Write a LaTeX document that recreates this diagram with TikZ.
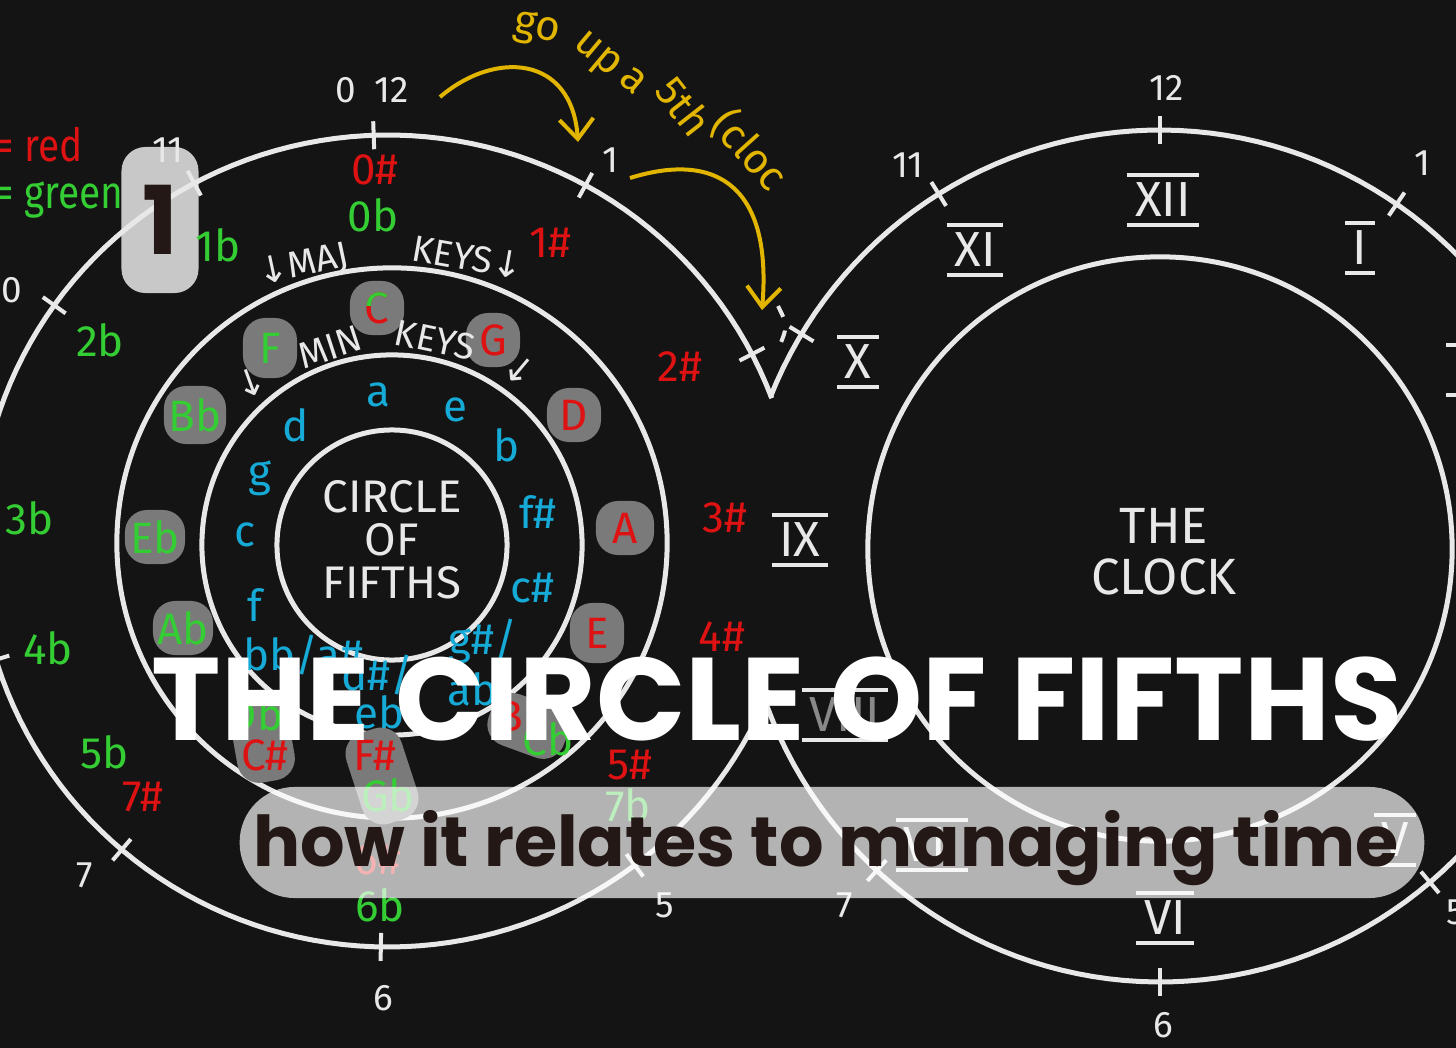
\documentclass[tikz,border=0pt]{standalone}
\usepackage{fontspec}
\setmainfont{Fira Sans}
\newfontfamily\headfont{Poppins}
\newfontfamily\symbfont{DejaVu Sans}
\usepackage{tikz}
\usetikzlibrary{arrows.meta, positioning}
\definecolor{boardbg}{RGB}{20, 20, 20}
\definecolor{chalk}{RGB}{232, 232, 232}
\definecolor{notered}{RGB}{222, 18, 18}
\definecolor{notegreen}{RGB}{52, 205, 52}
\definecolor{noteblue}{RGB}{22, 170, 215}
\definecolor{noteyellow}{RGB}{226, 182, 0}
\definecolor{blobgray}{RGB}{122, 122, 122}
\definecolor{badgegray}{RGB}{200, 200, 200}
\definecolor{inkdark}{RGB}{35, 24, 21}

\begin{document}
\begin{tikzpicture}[x=0.01cm, y=-0.01cm,
    chalkline/.style={draw=chalk, line width=0.5mm},
    tickline/.style={draw=chalk, line width=0.4mm},
    hand/.style={inner sep=0pt, font=\fontsize{12.5}{12.5}\selectfont},
    num/.style={hand, text=chalk, font=\fontsize{10.5}{10.5}\selectfont},
    sharp/.style={hand, text=notered},
    flat/.style={hand, text=notegreen},
    minor/.style={hand, text=noteblue},
    arclabel/.style={hand, text=chalk, font=\fontsize{10.5}{10.5}\selectfont},
    keyblob/.style={hand, fill=blobgray, rounded corners=2.2mm,
                    minimum width=5.4mm, minimum height=5.4mm},
    roman/.style={text=chalk, inner sep=0.7mm, font=\fontsize{14}{14}\selectfont,
                  append after command={
                    (\tikzlastnode.north west) edge[tickline] (\tikzlastnode.north east)
                    (\tikzlastnode.south west) edge[tickline] (\tikzlastnode.south east)}},
    yellownote/.style={hand, text=noteyellow, font=\fontsize{12}{12}\selectfont},
    yellowarrow/.style={draw=noteyellow, line width=0.4mm,
                        -{Straight Barb[length=2mm, width=3.4mm]}}]

    \useasboundingbox (0,0) rectangle (1456,1048);
    \fill[boardbg] (0,0) rectangle (1456,1048);
    \clip (0,0) rectangle (1456,1048);

    % badge sits under the outer circle
    \node[fill=badgegray, rounded corners=2.4mm, minimum width=7.7mm,
          minimum height=14.6mm, inner sep=0pt] (badge) at (160,220) {};

    % the two outer circles, joined at the V
    \draw[chalkline] plot[domain=21.6:339.4, samples=150]
      ({388+410*cos(\x)},{541+406*sin(\x)});
    \draw[chalkline] plot[domain=201.9:521.4, samples=150]
      ({1160+420*cos(\x)},{556+426*sin(\x)});
    \foreach \t in {-92,-61.2,-27.4,-118.2,-144.5,163,130.5,91,53}
      \draw[tickline] ({388+396*cos(\t)},{541+392*sin(\t)})
        -- ({388+424*cos(\t)},{541+420*sin(\t)});
    \foreach \t in {270,238.2,304.3,211.4,450,492.4,410}
      \draw[tickline] ({1160+406*cos(\t)},{556+412*sin(\t)})
        -- ({1160+434*cos(\t)},{556+440*sin(\t)});
    \draw[chalk, line width=0.4mm, dash pattern=on 1.2mm off 1.4mm]
      (778,306) .. controls (788,326) .. (777,352);

    % rings of the circle of fifths and the clock face
    \draw[chalkline] (392,543) circle[radius=27.5mm];
    \draw[chalkline] (392,545) circle[radius=19mm];
    \draw[chalkline] (392,545) circle[radius=11.5mm];
    \draw[chalkline] (1160,549) circle[radius=29.2mm];

    % hour numbers
    \node[num] (h0) at (346,90) {0};
    \node[num] (h12) at (392,90) {12};
    \node[num] (h1) at (610,160) {1};
    \node[num] (h11) at (168,150) {11};
    \node[num] (h10) at (4,290) {10};
    \node[num] (h7) at (85,875) {7};
    \node[num] (h6) at (383,998) {6};
    \node[num] (h5) at (665,905) {5};
    \node[num] (c12) at (1167,88) {12};
    \node[num] (c11) at (908,165) {11};
    \node[num] (c1) at (1422,163) {1};
    \node[num] (c7) at (845,905) {7};
    \node[num] (c6) at (1163,1025) {6};
    \node[num] (c5) at (1456,912) {5};

    % legend
    \node[hand, text=notered, anchor=west, xscale=0.85, font=\fontsize{13}{13}\selectfont]
      (legred) at (-6,145) {= red};
    \node[hand, text=notegreen, anchor=west, xscale=0.85, font=\fontsize{13}{13}\selectfont]
      (leggreen) at (-6,200) {= green};

    % key signatures
    \node[sharp] (s0) at (375,170) {0\#};
    \node[flat] (f0) at (373,215) {0b};
    \node[sharp] (s1) at (550,243) {1\#};
    \node[sharp] (s2) at (680,367) {2\#};
    \node[sharp] (s3) at (725,518) {3\#};
    \node[sharp] (s4) at (722,637) {4\#};
    \node[sharp] (s5) at (630,765) {5\#};
    \node[sharp] (s6) at (378,860) {6\#};
    \node[sharp] (s7) at (143,797) {7\#};
    \node[flat] (f1) at (218,245) {1b};
    \node[flat] (f2) at (100,340) {2b};
    \node[flat] (f3) at (30,518) {3b};
    \node[flat] (f4) at (48,648) {4b};
    \node[flat] (f5) at (105,752) {5b};
    \node[flat] (f6) at (380,905) {6b};
    \node[flat] (f7) at (628,805) {7b};

    % major keys
    \node[keyblob, text=notered] (kC) at (377,308) {C};
    \begin{scope}
      \clip (340,270) rectangle (420,305);
      \node[hand, text=notegreen] (kCtop) at (377,308) {C};
    \end{scope}
    \node[keyblob, text=notered] (kG) at (493,340) {G};
    \node[keyblob, text=notered] (kD) at (574,415) {D};
    \node[keyblob, text=notered, minimum width=5.8mm] (kA) at (625,528) {A};
    \node[keyblob, text=notered, minimum height=6mm] (kE) at (597,633) {E};
    \node[keyblob, minimum width=8mm, rotate=-20] (kB) at (528,726) {};
    \node[sharp] (kBs) at (510,716) {B};
    \node[flat] (kBf) at (548,739) {Cb};
    \node[keyblob, minimum width=5.8mm, minimum height=9.5mm, rotate=18] (kF6) at (382,776) {};
    \node[sharp] (kF6s) at (375,755) {F\#};
    \node[flat] (kF6f) at (388,795) {Gb};
    \node[keyblob, minimum width=5.8mm, minimum height=9mm, rotate=10] (kC7) at (262,737) {};
    \node[flat] (kC7f) at (256,714) {Db};
    \node[sharp] (kC7s) at (265,755) {C\#};
    \node[keyblob, text=notegreen, minimum width=6mm] (kAb) at (183,628) {Ab};
    \node[keyblob, text=notegreen, minimum width=6mm] (kEb) at (155,537) {Eb};
    \node[keyblob, text=notegreen, minimum width=6.2mm, minimum height=5.8mm] (kBb) at (195,415) {Bb};
    \node[keyblob, text=notegreen, minimum height=6mm] (kF) at (270,348) {F};

    % minor keys
    \node[minor] (mA) at (378,395) {a};
    \node[minor] (mE) at (455,410) {e};
    \node[minor] (mB) at (507,445) {b};
    \node[minor] (mFs) at (538,512) {f\#};
    \node[minor] (mCs) at (532,588) {c\#};
    \node[minor] (mGs) at (483,641) {g\#/};
    \node[minor] (mAb) at (473,689) {ab};
    \node[minor] (mDs) at (377,675) {d\#/};
    \node[minor] (mEb) at (380,712) {eb};
    \node[minor] (mBb) at (303,655) {bb/a\#};
    \node[minor] (mF) at (255,605) {f};
    \node[minor] (mC) at (245,535) {c};
    \node[minor] (mG) at (260,478) {g};
    \node[minor] (mD) at (296,425) {d};

    % ring captions
    \node[arclabel, rotate=12] (majL) at (303,265) {{\symbfont ↓}MAJ};
    \node[arclabel, rotate=-10] (majR) at (468,257) {KEYS{\symbfont ↓}};
    \node[arclabel, rotate=18] (minL) at (330,347) {MIN};
    \node[arclabel, rotate=-12] (minR) at (435,340) {KEYS};
    \node[arclabel, rotate=20] (arrL) at (250,383) {\symbfont ↓};
    \node[arclabel, rotate=-40] (arrR) at (520,370) {\symbfont ↓};
    \node[hand, text=chalk, align=center, font=\fontsize{13}{12.2}\selectfont]
      (cof) at (392,540) {CIRCLE\\OF\\FIFTHS};
    \node[hand, text=chalk, align=center, font=\fontsize{14.5}{14.5}\selectfont]
      (clock) at (1164,552) {THE\\CLOCK};

    % roman numerals
    \node[roman] (rXII) at (1163,200) {XII};
    \node[roman] (rXI) at (975,250) {XI};
    \node[roman] (rI) at (1360,248) {I};
    \node[roman] (rII) at (1468,370) {II};
    \node[roman] (rX) at (858,362) {X};
    \node[roman] (rIX) at (800,540) {IX};
    \node[roman, text=chalk!55!boardbg] (rVIII) at (845,715) {VIII};
    \node[roman] (rVII) at (932,845) {VII};
    \node[roman] (rVI) at (1165,918) {VI};
    \node[roman] (rV) at (1395,840) {V};

    % go up a fifth
    \coordinate (y1a) at (440,97);
    \coordinate (y1b) at (578,142);
    \coordinate (y2a) at (630,178);
    \coordinate (y2b) at (762,310);
    \draw[yellowarrow] (y1a) .. controls (495,50) and (572,55) .. (y1b);
    \draw[yellowarrow] (y2a) .. controls (720,150) and (772,190) .. (y2b);
    \node[yellownote, rotate=-12] (wgo) at (537,30) {go};
    \node[yellownote, rotate=-40] (wup) at (596,56) {up};
    \node[yellownote, rotate=-40] (wa) at (633,80) {a};
    \node[yellownote, rotate=-52] (w5th) at (684,106) {5th};
    \node[yellownote, rotate=-48] (wcl) at (750,150) {(cloc};

    \node[font=\headfont\bfseries\fontsize{27}{27}\selectfont, text=inkdark,
          inner sep=0pt] (one) at (badge.center) {1};

    % title and subtitle
    \node[fill=white, fill opacity=0.68, rounded corners=5.5mm, inner sep=0pt,
          minimum width=118.4mm, minimum height=11.1mm] (bar) at (832,842.5) {};
    \node[font=\headfont\bfseries\fontsize{33.4}{33.4}\selectfont, text=white,
          inner sep=0pt] (title) at (777,699) {THE CIRCLE OF FIFTHS};
    \node[font=\headfont\bfseries\fontsize{19.9}{19.9}\selectfont, text=inkdark,
          inner sep=0pt] (subtitle) at (826,848) {how it relates to managing time};
\end{tikzpicture}
\end{document}
